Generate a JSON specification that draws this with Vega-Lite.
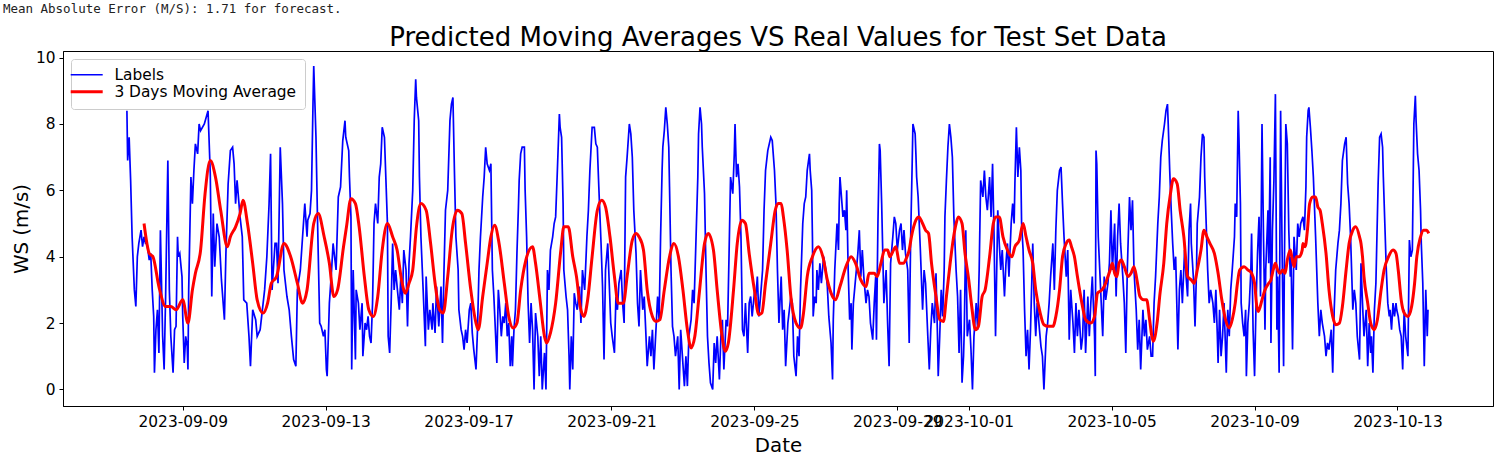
{
"$schema": "https://vega.github.io/schema/vega-lite/v6.json",
"background": "white",
"padding": {"left": 2, "top": 2, "right": 5, "bottom": 5},
"title": {"text": "Mean Absolute Error (M/S): 1.71 for forecast.", "anchor": "start", "frame": "bounds", "font": "DejaVu Sans Mono", "fontSize": 12.5, "fontWeight": "normal", "color": "#222222", "offset": 9, "dx": -8},
"datasets": {
"labels": [
{"t":"2023-09-07T10:30","v":8.4},{"t":"2023-09-07T11:00","v":6.9},{"t":"2023-09-07T12:00","v":7.6},{"t":"2023-09-07T13:00","v":6.3},{"t":"2023-09-07T14:00","v":4.6},{"t":"2023-09-07T15:30","v":3.0},{"t":"2023-09-07T16:30","v":2.5},{"t":"2023-09-07T17:30","v":4.0},{"t":"2023-09-07T18:30","v":4.4},{"t":"2023-09-07T20:00","v":4.8},{"t":"2023-09-07T21:00","v":4.3},{"t":"2023-09-07T22:00","v":4.6},{"t":"2023-09-07T23:00","v":4.4},
{"t":"2023-09-08T00:00","v":4.4},{"t":"2023-09-08T01:30","v":3.9},{"t":"2023-09-08T02:30","v":4.1},{"t":"2023-09-08T03:30","v":3.0},{"t":"2023-09-08T04:30","v":2.2},{"t":"2023-09-08T05:00","v":0.5},{"t":"2023-09-08T06:00","v":1.8},{"t":"2023-09-08T07:00","v":2.4},{"t":"2023-09-08T08:00","v":1.1},{"t":"2023-09-08T09:00","v":4.8},{"t":"2023-09-08T10:30","v":1.6},{"t":"2023-09-08T11:30","v":0.6},{"t":"2023-09-08T12:30","v":2.8},{"t":"2023-09-08T14:00","v":6.9},{"t":"2023-09-08T15:00","v":3.0},{"t":"2023-09-08T16:00","v":1.6},{"t":"2023-09-08T17:30","v":0.5},{"t":"2023-09-08T18:30","v":1.8},{"t":"2023-09-08T19:30","v":1.9},{"t":"2023-09-08T20:30","v":4.6},{"t":"2023-09-08T21:00","v":4.0},{"t":"2023-09-08T22:00","v":4.1},{"t":"2023-09-08T23:30","v":3.4},
{"t":"2023-09-09T00:00","v":2.2},{"t":"2023-09-09T01:00","v":0.8},{"t":"2023-09-09T02:00","v":1.6},{"t":"2023-09-09T03:00","v":1.3},{"t":"2023-09-09T03:30","v":0.6},{"t":"2023-09-09T04:00","v":3.0},{"t":"2023-09-09T05:30","v":6.4},{"t":"2023-09-09T06:30","v":5.6},{"t":"2023-09-09T07:30","v":6.6},{"t":"2023-09-09T08:30","v":7.4},{"t":"2023-09-09T10:00","v":7.1},{"t":"2023-09-09T11:00","v":8.0},{"t":"2023-09-09T12:00","v":7.8},{"t":"2023-09-09T14:30","v":8.0},{"t":"2023-09-09T17:00","v":8.4},{"t":"2023-09-09T18:30","v":6.5},{"t":"2023-09-09T19:30","v":2.8},{"t":"2023-09-09T20:30","v":5.3},{"t":"2023-09-09T21:30","v":3.7},{"t":"2023-09-09T23:00","v":5.0},
{"t":"2023-09-10T00:30","v":4.6},{"t":"2023-09-10T02:00","v":3.3},{"t":"2023-09-10T04:00","v":2.1},{"t":"2023-09-10T05:00","v":4.1},{"t":"2023-09-10T06:30","v":6.2},{"t":"2023-09-10T08:00","v":7.2},{"t":"2023-09-10T09:30","v":7.3},{"t":"2023-09-10T10:30","v":6.8},{"t":"2023-09-10T11:30","v":5.6},{"t":"2023-09-10T12:30","v":6.3},{"t":"2023-09-10T14:30","v":5.2},{"t":"2023-09-10T16:00","v":4.6},{"t":"2023-09-10T17:00","v":2.7},{"t":"2023-09-10T19:00","v":2.6},{"t":"2023-09-10T20:30","v":1.6},{"t":"2023-09-10T21:30","v":0.7},{"t":"2023-09-10T23:00","v":2.4},
{"t":"2023-09-11T01:00","v":2.1},{"t":"2023-09-11T02:00","v":1.6},{"t":"2023-09-11T04:00","v":1.8},{"t":"2023-09-11T05:30","v":2.4},{"t":"2023-09-11T07:00","v":3.0},{"t":"2023-09-11T08:30","v":4.0},{"t":"2023-09-11T10:00","v":5.6},{"t":"2023-09-11T11:00","v":7.1},{"t":"2023-09-11T12:00","v":3.0},{"t":"2023-09-11T14:00","v":4.4},{"t":"2023-09-11T15:00","v":4.4},{"t":"2023-09-11T16:00","v":3.2},{"t":"2023-09-11T17:30","v":7.3},{"t":"2023-09-11T19:00","v":5.6},{"t":"2023-09-11T20:00","v":3.6},{"t":"2023-09-11T22:00","v":2.8},{"t":"2023-09-11T23:30","v":2.4},
{"t":"2023-09-12T01:00","v":1.6},{"t":"2023-09-12T02:30","v":0.9},{"t":"2023-09-12T04:00","v":0.7},{"t":"2023-09-12T05:00","v":3.0},{"t":"2023-09-12T07:00","v":3.6},{"t":"2023-09-12T08:30","v":4.6},{"t":"2023-09-12T10:00","v":5.6},{"t":"2023-09-12T11:30","v":4.6},{"t":"2023-09-12T12:00","v":5.1},{"t":"2023-09-12T13:30","v":5.3},{"t":"2023-09-12T14:30","v":6.0},{"t":"2023-09-12T15:30","v":8.6},{"t":"2023-09-12T16:00","v":9.75},{"t":"2023-09-12T17:30","v":7.6},{"t":"2023-09-12T18:30","v":5.2},{"t":"2023-09-12T20:00","v":2.0},{"t":"2023-09-12T21:00","v":1.9},{"t":"2023-09-12T22:30","v":1.6},{"t":"2023-09-12T23:30","v":1.8},
{"t":"2023-09-13T00:30","v":0.6},{"t":"2023-09-13T01:00","v":0.4},{"t":"2023-09-13T02:30","v":2.6},{"t":"2023-09-13T04:00","v":3.6},{"t":"2023-09-13T05:00","v":4.4},{"t":"2023-09-13T07:00","v":3.6},{"t":"2023-09-13T08:30","v":5.8},{"t":"2023-09-13T10:00","v":6.1},{"t":"2023-09-13T11:30","v":7.5},{"t":"2023-09-13T13:00","v":8.1},{"t":"2023-09-13T13:30","v":7.6},{"t":"2023-09-13T15:30","v":7.2},{"t":"2023-09-13T16:00","v":6.4},{"t":"2023-09-13T17:00","v":5.2},{"t":"2023-09-13T17:30","v":0.6},{"t":"2023-09-13T18:30","v":3.6},{"t":"2023-09-13T20:00","v":0.9},{"t":"2023-09-13T20:30","v":3.0},{"t":"2023-09-13T22:00","v":2.6},{"t":"2023-09-13T23:00","v":1.8},
{"t":"2023-09-14T00:30","v":2.6},{"t":"2023-09-14T01:00","v":1.0},{"t":"2023-09-14T02:30","v":2.0},{"t":"2023-09-14T03:30","v":1.8},{"t":"2023-09-14T04:30","v":2.2},{"t":"2023-09-14T05:30","v":1.6},{"t":"2023-09-14T06:30","v":1.4},{"t":"2023-09-14T07:30","v":2.6},{"t":"2023-09-14T08:30","v":5.0},{"t":"2023-09-14T09:30","v":5.6},{"t":"2023-09-14T11:00","v":5.0},{"t":"2023-09-14T12:00","v":6.4},{"t":"2023-09-14T13:00","v":6.8},{"t":"2023-09-14T14:00","v":7.9},{"t":"2023-09-14T15:30","v":7.6},{"t":"2023-09-14T16:30","v":6.3},{"t":"2023-09-14T17:30","v":5.0},{"t":"2023-09-14T18:00","v":1.6},{"t":"2023-09-14T19:00","v":1.1},{"t":"2023-09-14T20:00","v":2.6},{"t":"2023-09-14T21:00","v":4.4},{"t":"2023-09-14T22:00","v":3.0},{"t":"2023-09-14T23:00","v":3.6},
{"t":"2023-09-15T00:00","v":3.1},{"t":"2023-09-15T01:30","v":2.4},{"t":"2023-09-15T02:30","v":3.4},{"t":"2023-09-15T03:30","v":2.6},{"t":"2023-09-15T04:30","v":4.2},{"t":"2023-09-15T06:00","v":3.6},{"t":"2023-09-15T07:00","v":1.9},{"t":"2023-09-15T08:00","v":3.8},{"t":"2023-09-15T09:00","v":4.6},{"t":"2023-09-15T10:30","v":6.0},{"t":"2023-09-15T11:30","v":8.1},{"t":"2023-09-15T12:30","v":9.35},{"t":"2023-09-15T13:00","v":8.8},{"t":"2023-09-15T14:30","v":8.1},{"t":"2023-09-15T15:00","v":6.4},{"t":"2023-09-15T16:00","v":4.6},{"t":"2023-09-15T17:30","v":3.0},{"t":"2023-09-15T19:00","v":1.3},{"t":"2023-09-15T19:30","v":3.4},{"t":"2023-09-15T21:00","v":1.8},{"t":"2023-09-15T22:00","v":2.4},{"t":"2023-09-15T23:30","v":1.8},
{"t":"2023-09-16T00:00","v":2.6},{"t":"2023-09-16T01:30","v":1.7},{"t":"2023-09-16T02:30","v":3.1},{"t":"2023-09-16T04:00","v":1.9},{"t":"2023-09-16T05:30","v":3.1},{"t":"2023-09-16T06:30","v":1.4},{"t":"2023-09-16T07:30","v":3.6},{"t":"2023-09-16T08:30","v":5.4},{"t":"2023-09-16T10:00","v":6.0},{"t":"2023-09-16T11:30","v":8.1},{"t":"2023-09-16T12:30","v":8.6},{"t":"2023-09-16T13:30","v":8.8},{"t":"2023-09-16T14:30","v":6.6},{"t":"2023-09-16T15:30","v":4.6},{"t":"2023-09-16T17:00","v":3.6},{"t":"2023-09-16T17:30","v":2.4},{"t":"2023-09-16T19:00","v":1.8},{"t":"2023-09-16T20:00","v":1.6},{"t":"2023-09-16T21:00","v":1.2},{"t":"2023-09-16T22:00","v":1.8},{"t":"2023-09-16T23:00","v":1.4},
{"t":"2023-09-17T00:30","v":2.4},{"t":"2023-09-17T01:30","v":2.6},{"t":"2023-09-17T02:30","v":1.7},{"t":"2023-09-17T03:30","v":1.2},{"t":"2023-09-17T05:00","v":0.6},{"t":"2023-09-17T06:00","v":1.8},{"t":"2023-09-17T07:00","v":3.6},{"t":"2023-09-17T08:00","v":4.6},{"t":"2023-09-17T09:30","v":5.8},{"t":"2023-09-17T10:30","v":6.4},{"t":"2023-09-17T11:30","v":7.3},{"t":"2023-09-17T12:30","v":6.8},{"t":"2023-09-17T14:00","v":6.6},{"t":"2023-09-17T15:00","v":6.8},{"t":"2023-09-17T16:00","v":3.6},{"t":"2023-09-17T17:00","v":2.8},{"t":"2023-09-17T18:30","v":1.3},{"t":"2023-09-17T19:00","v":0.8},{"t":"2023-09-17T20:00","v":3.0},{"t":"2023-09-17T21:00","v":2.4},{"t":"2023-09-17T22:00","v":1.6},{"t":"2023-09-17T23:00","v":2.2},
{"t":"2023-09-18T00:00","v":2.0},{"t":"2023-09-18T01:00","v":2.6},{"t":"2023-09-18T02:00","v":1.6},{"t":"2023-09-18T03:00","v":2.0},{"t":"2023-09-18T04:00","v":0.7},{"t":"2023-09-18T05:00","v":1.6},{"t":"2023-09-18T05:30","v":0.7},{"t":"2023-09-18T06:30","v":1.8},{"t":"2023-09-18T07:30","v":2.4},{"t":"2023-09-18T08:30","v":4.1},{"t":"2023-09-18T09:30","v":5.5},{"t":"2023-09-18T10:00","v":6.3},{"t":"2023-09-18T11:00","v":7.1},{"t":"2023-09-18T12:00","v":7.3},{"t":"2023-09-18T13:30","v":7.3},{"t":"2023-09-18T14:00","v":6.0},{"t":"2023-09-18T15:00","v":4.6},{"t":"2023-09-18T16:00","v":2.6},{"t":"2023-09-18T17:00","v":1.4},{"t":"2023-09-18T18:00","v":2.6},{"t":"2023-09-18T19:00","v":1.8},{"t":"2023-09-18T20:00","v":0.0},{"t":"2023-09-18T21:00","v":2.3},{"t":"2023-09-18T22:30","v":1.6},{"t":"2023-09-18T23:30","v":0.4},
{"t":"2023-09-19T00:30","v":1.6},{"t":"2023-09-19T01:30","v":0.0},{"t":"2023-09-19T03:00","v":1.1},{"t":"2023-09-19T04:00","v":0.0},{"t":"2023-09-19T05:00","v":3.6},{"t":"2023-09-19T06:00","v":3.0},{"t":"2023-09-19T07:00","v":4.2},{"t":"2023-09-19T08:30","v":4.6},{"t":"2023-09-19T09:30","v":5.0},{"t":"2023-09-19T10:30","v":5.2},{"t":"2023-09-19T11:30","v":6.4},{"t":"2023-09-19T13:00","v":8.3},{"t":"2023-09-19T13:30","v":7.9},{"t":"2023-09-19T14:30","v":7.6},{"t":"2023-09-19T15:30","v":5.6},{"t":"2023-09-19T16:00","v":3.6},{"t":"2023-09-19T17:30","v":2.8},{"t":"2023-09-19T18:30","v":2.4},{"t":"2023-09-19T19:30","v":1.0},{"t":"2023-09-19T20:00","v":0.0},{"t":"2023-09-19T21:00","v":1.6},{"t":"2023-09-19T22:00","v":0.6},{"t":"2023-09-19T23:00","v":2.9},
{"t":"2023-09-20T00:00","v":2.6},{"t":"2023-09-20T01:00","v":2.4},{"t":"2023-09-20T02:30","v":3.1},{"t":"2023-09-20T03:30","v":2.0},{"t":"2023-09-20T04:30","v":3.6},{"t":"2023-09-20T06:00","v":3.0},{"t":"2023-09-20T07:30","v":4.6},{"t":"2023-09-20T08:30","v":5.4},{"t":"2023-09-20T09:30","v":6.6},{"t":"2023-09-20T11:00","v":7.9},{"t":"2023-09-20T12:30","v":7.9},{"t":"2023-09-20T13:30","v":7.4},{"t":"2023-09-20T14:30","v":7.3},{"t":"2023-09-20T15:30","v":6.1},{"t":"2023-09-20T17:00","v":4.4},{"t":"2023-09-20T18:00","v":3.1},{"t":"2023-09-20T19:00","v":0.9},{"t":"2023-09-20T20:00","v":3.6},{"t":"2023-09-20T21:30","v":4.4},{"t":"2023-09-20T22:30","v":3.2},{"t":"2023-09-20T23:30","v":2.0},
{"t":"2023-09-21T00:30","v":1.6},{"t":"2023-09-21T02:00","v":1.1},{"t":"2023-09-21T03:00","v":2.8},{"t":"2023-09-21T04:00","v":2.4},{"t":"2023-09-21T05:00","v":3.2},{"t":"2023-09-21T06:30","v":3.6},{"t":"2023-09-21T07:30","v":2.6},{"t":"2023-09-21T08:30","v":2.0},{"t":"2023-09-21T09:30","v":6.4},{"t":"2023-09-21T10:30","v":7.0},{"t":"2023-09-21T12:00","v":8.0},{"t":"2023-09-21T13:00","v":7.7},{"t":"2023-09-21T14:00","v":7.0},{"t":"2023-09-21T15:00","v":5.4},{"t":"2023-09-21T16:30","v":4.1},{"t":"2023-09-21T17:30","v":2.6},{"t":"2023-09-21T18:30","v":1.9},{"t":"2023-09-21T19:30","v":3.6},{"t":"2023-09-21T21:00","v":2.4},{"t":"2023-09-21T22:00","v":2.8},{"t":"2023-09-21T23:00","v":1.8},
{"t":"2023-09-22T00:00","v":0.7},{"t":"2023-09-22T01:30","v":1.6},{"t":"2023-09-22T02:30","v":1.0},{"t":"2023-09-22T03:30","v":1.8},{"t":"2023-09-22T04:30","v":0.6},{"t":"2023-09-22T06:00","v":1.9},{"t":"2023-09-22T07:00","v":2.8},{"t":"2023-09-22T08:00","v":2.1},{"t":"2023-09-22T09:00","v":4.6},{"t":"2023-09-22T10:00","v":6.6},{"t":"2023-09-22T10:30","v":7.3},{"t":"2023-09-22T11:30","v":7.8},{"t":"2023-09-22T12:30","v":8.5},{"t":"2023-09-22T13:30","v":8.0},{"t":"2023-09-22T14:30","v":7.3},{"t":"2023-09-22T15:00","v":6.1},{"t":"2023-09-22T16:00","v":3.6},{"t":"2023-09-22T17:00","v":1.9},{"t":"2023-09-22T18:00","v":1.6},{"t":"2023-09-22T19:00","v":1.0},{"t":"2023-09-22T20:30","v":1.6},{"t":"2023-09-22T21:30","v":0.0},{"t":"2023-09-22T22:30","v":1.8},{"t":"2023-09-22T23:30","v":1.1},
{"t":"2023-09-23T01:00","v":0.1},{"t":"2023-09-23T02:00","v":1.0},{"t":"2023-09-23T03:00","v":0.1},{"t":"2023-09-23T04:00","v":1.6},{"t":"2023-09-23T05:30","v":2.1},{"t":"2023-09-23T06:30","v":3.0},{"t":"2023-09-23T07:30","v":2.6},{"t":"2023-09-23T08:30","v":4.1},{"t":"2023-09-23T10:00","v":6.4},{"t":"2023-09-23T10:30","v":7.7},{"t":"2023-09-23T11:30","v":8.5},{"t":"2023-09-23T12:30","v":8.0},{"t":"2023-09-23T13:00","v":7.3},{"t":"2023-09-23T14:30","v":5.9},{"t":"2023-09-23T15:30","v":3.6},{"t":"2023-09-23T16:30","v":1.6},{"t":"2023-09-23T17:30","v":0.8},{"t":"2023-09-23T18:30","v":0.2},{"t":"2023-09-23T20:00","v":0.0},{"t":"2023-09-23T21:00","v":1.4},{"t":"2023-09-23T22:00","v":0.8},{"t":"2023-09-23T23:00","v":1.6},
{"t":"2023-09-24T00:30","v":0.3},{"t":"2023-09-24T01:30","v":1.6},{"t":"2023-09-24T02:30","v":2.1},{"t":"2023-09-24T03:30","v":0.6},{"t":"2023-09-24T05:00","v":2.1},{"t":"2023-09-24T06:00","v":1.9},{"t":"2023-09-24T07:00","v":4.1},{"t":"2023-09-24T08:00","v":6.4},{"t":"2023-09-24T09:30","v":5.9},{"t":"2023-09-24T10:30","v":7.1},{"t":"2023-09-24T11:00","v":8.0},{"t":"2023-09-24T12:00","v":6.4},{"t":"2023-09-24T13:00","v":6.8},{"t":"2023-09-24T14:00","v":6.1},{"t":"2023-09-24T15:00","v":4.6},{"t":"2023-09-24T16:00","v":1.8},{"t":"2023-09-24T17:00","v":1.6},{"t":"2023-09-24T18:00","v":2.6},{"t":"2023-09-24T19:30","v":1.1},{"t":"2023-09-24T20:30","v":2.6},{"t":"2023-09-24T21:30","v":2.8},{"t":"2023-09-24T22:30","v":2.2},
{"t":"2023-09-25T00:00","v":2.9},{"t":"2023-09-25T01:00","v":2.8},{"t":"2023-09-25T02:00","v":3.4},{"t":"2023-09-25T03:00","v":2.2},{"t":"2023-09-25T04:30","v":3.0},{"t":"2023-09-25T05:30","v":3.6},{"t":"2023-09-25T06:30","v":5.4},{"t":"2023-09-25T07:30","v":6.6},{"t":"2023-09-25T09:00","v":7.2},{"t":"2023-09-25T10:00","v":7.4},{"t":"2023-09-25T11:00","v":7.6},{"t":"2023-09-25T12:00","v":7.5},{"t":"2023-09-25T13:30","v":6.6},{"t":"2023-09-25T14:30","v":5.6},{"t":"2023-09-25T15:30","v":3.6},{"t":"2023-09-25T16:30","v":2.0},{"t":"2023-09-25T18:00","v":3.4},{"t":"2023-09-25T19:00","v":1.8},{"t":"2023-09-25T20:00","v":2.4},{"t":"2023-09-25T21:00","v":0.7},{"t":"2023-09-25T22:30","v":2.0},{"t":"2023-09-25T23:30","v":2.4},
{"t":"2023-09-26T00:30","v":2.8},{"t":"2023-09-26T01:30","v":2.6},{"t":"2023-09-26T02:30","v":1.0},{"t":"2023-09-26T04:00","v":0.4},{"t":"2023-09-26T05:00","v":1.6},{"t":"2023-09-26T06:00","v":1.0},{"t":"2023-09-26T07:00","v":3.0},{"t":"2023-09-26T08:30","v":5.0},{"t":"2023-09-26T09:30","v":5.6},{"t":"2023-09-26T10:30","v":5.8},{"t":"2023-09-26T11:30","v":6.6},{"t":"2023-09-26T13:00","v":7.1},{"t":"2023-09-26T13:30","v":6.6},{"t":"2023-09-26T14:30","v":6.0},{"t":"2023-09-26T15:00","v":4.6},{"t":"2023-09-26T15:30","v":2.2},{"t":"2023-09-26T16:30","v":2.8},{"t":"2023-09-26T17:30","v":2.6},{"t":"2023-09-26T18:00","v":3.6},{"t":"2023-09-26T19:00","v":3.0},{"t":"2023-09-26T20:00","v":3.8},{"t":"2023-09-26T21:00","v":3.2},{"t":"2023-09-26T22:30","v":4.0},
{"t":"2023-09-27T00:00","v":3.6},{"t":"2023-09-27T01:00","v":3.1},{"t":"2023-09-27T02:00","v":2.2},{"t":"2023-09-27T03:30","v":1.4},{"t":"2023-09-27T04:30","v":0.3},{"t":"2023-09-27T05:00","v":2.1},{"t":"2023-09-27T06:00","v":3.6},{"t":"2023-09-27T07:30","v":5.0},{"t":"2023-09-27T08:30","v":4.2},{"t":"2023-09-27T09:00","v":5.6},{"t":"2023-09-27T09:30","v":6.4},{"t":"2023-09-27T10:30","v":5.8},{"t":"2023-09-27T11:30","v":5.2},{"t":"2023-09-27T12:30","v":5.4},{"t":"2023-09-27T13:30","v":4.8},{"t":"2023-09-27T14:00","v":6.0},{"t":"2023-09-27T15:00","v":3.6},{"t":"2023-09-27T16:00","v":2.1},{"t":"2023-09-27T17:00","v":2.6},{"t":"2023-09-27T17:30","v":1.2},{"t":"2023-09-27T18:30","v":2.6},{"t":"2023-09-27T19:30","v":3.1},{"t":"2023-09-27T20:30","v":3.6},{"t":"2023-09-27T21:30","v":4.1},{"t":"2023-09-27T22:30","v":4.8},{"t":"2023-09-27T23:30","v":3.4},
{"t":"2023-09-28T00:30","v":4.2},{"t":"2023-09-28T01:30","v":3.4},{"t":"2023-09-28T03:00","v":2.6},{"t":"2023-09-28T04:00","v":3.0},{"t":"2023-09-28T05:00","v":2.8},{"t":"2023-09-28T06:00","v":2.0},{"t":"2023-09-28T07:30","v":1.5},{"t":"2023-09-28T08:30","v":2.6},{"t":"2023-09-28T09:30","v":3.4},{"t":"2023-09-28T10:00","v":1.5},{"t":"2023-09-28T11:00","v":5.0},{"t":"2023-09-28T12:00","v":7.4},{"t":"2023-09-28T12:30","v":7.2},{"t":"2023-09-28T13:30","v":5.6},{"t":"2023-09-28T14:30","v":3.6},{"t":"2023-09-28T15:00","v":2.6},{"t":"2023-09-28T16:30","v":3.6},{"t":"2023-09-28T17:30","v":2.0},{"t":"2023-09-28T18:30","v":0.7},{"t":"2023-09-28T19:30","v":3.8},{"t":"2023-09-28T21:00","v":4.6},{"t":"2023-09-28T22:00","v":5.2},{"t":"2023-09-28T23:00","v":5.0},
{"t":"2023-09-29T00:00","v":4.2},{"t":"2023-09-29T01:30","v":4.8},{"t":"2023-09-29T02:30","v":5.0},{"t":"2023-09-29T03:30","v":4.2},{"t":"2023-09-29T04:30","v":4.8},{"t":"2023-09-29T05:30","v":4.1},{"t":"2023-09-29T07:00","v":3.6},{"t":"2023-09-29T08:00","v":1.4},{"t":"2023-09-29T09:00","v":4.6},{"t":"2023-09-29T10:00","v":6.8},{"t":"2023-09-29T10:30","v":8.0},{"t":"2023-09-29T12:00","v":7.7},{"t":"2023-09-29T12:30","v":7.1},{"t":"2023-09-29T13:00","v":6.4},{"t":"2023-09-29T14:00","v":5.8},{"t":"2023-09-29T15:30","v":4.2},{"t":"2023-09-29T16:30","v":3.0},{"t":"2023-09-29T17:00","v":2.4},{"t":"2023-09-29T18:00","v":3.6},{"t":"2023-09-29T19:00","v":3.2},{"t":"2023-09-29T20:30","v":1.6},{"t":"2023-09-29T21:30","v":0.6},{"t":"2023-09-29T22:30","v":1.8},{"t":"2023-09-29T23:30","v":2.6},
{"t":"2023-09-30T01:00","v":2.0},{"t":"2023-09-30T02:00","v":3.5},{"t":"2023-09-30T03:00","v":1.6},{"t":"2023-09-30T03:30","v":0.4},{"t":"2023-09-30T04:30","v":1.6},{"t":"2023-09-30T05:30","v":3.0},{"t":"2023-09-30T06:30","v":2.2},{"t":"2023-09-30T07:30","v":3.6},{"t":"2023-09-30T08:00","v":5.2},{"t":"2023-09-30T09:00","v":6.3},{"t":"2023-09-30T10:00","v":7.3},{"t":"2023-09-30T11:00","v":8.0},{"t":"2023-09-30T12:00","v":7.6},{"t":"2023-09-30T13:00","v":7.0},{"t":"2023-09-30T14:00","v":5.2},{"t":"2023-09-30T15:30","v":3.6},{"t":"2023-09-30T16:30","v":2.8},{"t":"2023-09-30T17:30","v":1.1},{"t":"2023-09-30T18:30","v":3.0},{"t":"2023-09-30T19:30","v":0.2},{"t":"2023-09-30T20:30","v":1.0},{"t":"2023-09-30T21:00","v":1.8},{"t":"2023-09-30T22:00","v":4.8},{"t":"2023-09-30T23:00","v":1.6},
{"t":"2023-10-01T00:30","v":2.1},{"t":"2023-10-01T01:30","v":1.2},{"t":"2023-10-01T02:30","v":0.0},{"t":"2023-10-01T03:30","v":1.6},{"t":"2023-10-01T05:00","v":2.6},{"t":"2023-10-01T06:00","v":1.8},{"t":"2023-10-01T07:00","v":3.6},{"t":"2023-10-01T08:00","v":6.3},{"t":"2023-10-01T09:30","v":5.8},{"t":"2023-10-01T10:30","v":6.6},{"t":"2023-10-01T11:30","v":5.8},{"t":"2023-10-01T12:30","v":5.4},{"t":"2023-10-01T14:00","v":6.4},{"t":"2023-10-01T15:00","v":5.2},{"t":"2023-10-01T16:00","v":6.8},{"t":"2023-10-01T17:00","v":4.6},{"t":"2023-10-01T18:00","v":1.6},{"t":"2023-10-01T19:30","v":5.4},{"t":"2023-10-01T20:30","v":4.4},{"t":"2023-10-01T21:30","v":3.6},{"t":"2023-10-01T22:30","v":4.2},
{"t":"2023-10-02T00:00","v":2.8},{"t":"2023-10-02T01:00","v":3.8},{"t":"2023-10-02T02:00","v":4.4},{"t":"2023-10-02T03:00","v":3.4},{"t":"2023-10-02T04:30","v":5.0},{"t":"2023-10-02T05:30","v":5.6},{"t":"2023-10-02T06:30","v":5.0},{"t":"2023-10-02T07:00","v":6.2},{"t":"2023-10-02T08:00","v":7.9},{"t":"2023-10-02T09:00","v":6.4},{"t":"2023-10-02T10:00","v":7.3},{"t":"2023-10-02T11:00","v":6.6},{"t":"2023-10-02T11:30","v":5.0},{"t":"2023-10-02T12:30","v":4.2},{"t":"2023-10-02T13:30","v":2.4},{"t":"2023-10-02T14:30","v":1.0},{"t":"2023-10-02T15:30","v":1.8},{"t":"2023-10-02T16:30","v":0.6},{"t":"2023-10-02T17:30","v":1.8},{"t":"2023-10-02T19:00","v":4.4},{"t":"2023-10-02T20:00","v":2.6},{"t":"2023-10-02T21:00","v":1.6},{"t":"2023-10-02T22:00","v":2.6},{"t":"2023-10-02T23:30","v":1.8},
{"t":"2023-10-03T00:30","v":1.3},{"t":"2023-10-03T01:30","v":1.0},{"t":"2023-10-03T02:30","v":0.0},{"t":"2023-10-03T04:00","v":1.6},{"t":"2023-10-03T05:00","v":2.0},{"t":"2023-10-03T06:00","v":2.6},{"t":"2023-10-03T07:00","v":3.4},{"t":"2023-10-03T08:30","v":4.4},{"t":"2023-10-03T09:30","v":3.0},{"t":"2023-10-03T10:30","v":4.8},{"t":"2023-10-03T11:30","v":6.0},{"t":"2023-10-03T13:00","v":6.6},{"t":"2023-10-03T14:00","v":6.7},{"t":"2023-10-03T15:00","v":5.6},{"t":"2023-10-03T16:00","v":4.6},{"t":"2023-10-03T17:30","v":3.4},{"t":"2023-10-03T18:30","v":4.2},{"t":"2023-10-03T19:30","v":1.5},{"t":"2023-10-03T20:30","v":3.0},{"t":"2023-10-03T22:00","v":2.0},{"t":"2023-10-03T23:00","v":1.1},
{"t":"2023-10-04T00:00","v":2.6},{"t":"2023-10-04T01:00","v":1.6},{"t":"2023-10-04T02:00","v":2.4},{"t":"2023-10-04T03:30","v":1.2},{"t":"2023-10-04T04:30","v":1.6},{"t":"2023-10-04T05:30","v":3.0},{"t":"2023-10-04T06:30","v":1.1},{"t":"2023-10-04T08:00","v":2.8},{"t":"2023-10-04T09:00","v":1.6},{"t":"2023-10-04T10:00","v":2.6},{"t":"2023-10-04T11:00","v":3.4},{"t":"2023-10-04T12:30","v":1.6},{"t":"2023-10-04T13:00","v":0.4},{"t":"2023-10-04T13:30","v":7.2},{"t":"2023-10-04T14:00","v":6.8},{"t":"2023-10-04T15:00","v":4.6},{"t":"2023-10-04T16:00","v":3.6},{"t":"2023-10-04T17:00","v":2.6},{"t":"2023-10-04T18:00","v":1.6},{"t":"2023-10-04T19:00","v":3.4},{"t":"2023-10-04T20:00","v":2.7},{"t":"2023-10-04T21:30","v":3.2},{"t":"2023-10-04T22:30","v":3.8},{"t":"2023-10-04T23:30","v":5.4},
{"t":"2023-10-05T00:30","v":3.6},{"t":"2023-10-05T02:00","v":5.0},{"t":"2023-10-05T03:00","v":2.8},{"t":"2023-10-05T04:00","v":4.6},{"t":"2023-10-05T05:00","v":5.6},{"t":"2023-10-05T06:00","v":4.4},{"t":"2023-10-05T07:30","v":3.4},{"t":"2023-10-05T08:30","v":2.6},{"t":"2023-10-05T09:30","v":1.1},{"t":"2023-10-05T10:30","v":3.6},{"t":"2023-10-05T12:00","v":5.8},{"t":"2023-10-05T13:00","v":4.8},{"t":"2023-10-05T14:00","v":5.7},{"t":"2023-10-05T15:00","v":3.6},{"t":"2023-10-05T16:30","v":2.4},{"t":"2023-10-05T17:30","v":1.2},{"t":"2023-10-05T18:30","v":2.1},{"t":"2023-10-05T19:30","v":0.6},{"t":"2023-10-05T21:00","v":2.4},{"t":"2023-10-05T22:00","v":1.6},{"t":"2023-10-05T23:00","v":2.1},
{"t":"2023-10-06T00:00","v":1.2},{"t":"2023-10-06T01:30","v":1.6},{"t":"2023-10-06T02:30","v":1.0},{"t":"2023-10-06T03:30","v":1.0},{"t":"2023-10-06T04:30","v":2.6},{"t":"2023-10-06T05:30","v":3.4},{"t":"2023-10-06T07:00","v":5.0},{"t":"2023-10-06T08:00","v":5.8},{"t":"2023-10-06T09:00","v":7.0},{"t":"2023-10-06T10:00","v":7.5},{"t":"2023-10-06T11:30","v":8.0},{"t":"2023-10-06T12:30","v":8.4},{"t":"2023-10-06T13:30","v":8.6},{"t":"2023-10-06T14:00","v":8.0},{"t":"2023-10-06T15:00","v":6.6},{"t":"2023-10-06T16:00","v":5.4},{"t":"2023-10-06T17:00","v":4.4},{"t":"2023-10-06T18:00","v":3.6},{"t":"2023-10-06T19:00","v":4.0},{"t":"2023-10-06T20:30","v":1.2},{"t":"2023-10-06T21:30","v":3.0},{"t":"2023-10-06T22:30","v":3.6},{"t":"2023-10-06T23:30","v":2.6},
{"t":"2023-10-07T01:00","v":4.2},{"t":"2023-10-07T02:00","v":3.4},{"t":"2023-10-07T03:00","v":2.8},{"t":"2023-10-07T04:00","v":4.8},{"t":"2023-10-07T05:00","v":5.6},{"t":"2023-10-07T05:30","v":4.4},{"t":"2023-10-07T07:00","v":3.3},{"t":"2023-10-07T08:00","v":1.9},{"t":"2023-10-07T09:00","v":3.6},{"t":"2023-10-07T09:30","v":5.0},{"t":"2023-10-07T11:00","v":5.8},{"t":"2023-10-07T12:00","v":7.0},{"t":"2023-10-07T13:00","v":7.7},{"t":"2023-10-07T14:00","v":7.6},{"t":"2023-10-07T14:30","v":6.4},{"t":"2023-10-07T15:30","v":5.0},{"t":"2023-10-07T16:30","v":3.6},{"t":"2023-10-07T17:30","v":2.6},{"t":"2023-10-07T18:30","v":3.0},{"t":"2023-10-07T20:00","v":2.6},{"t":"2023-10-07T21:00","v":2.0},{"t":"2023-10-07T22:00","v":3.0},{"t":"2023-10-07T23:00","v":1.6},{"t":"2023-10-07T23:30","v":0.8},
{"t":"2023-10-08T00:30","v":2.4},{"t":"2023-10-08T01:30","v":1.0},{"t":"2023-10-08T02:30","v":1.6},{"t":"2023-10-08T03:30","v":2.6},{"t":"2023-10-08T05:00","v":0.5},{"t":"2023-10-08T06:00","v":2.4},{"t":"2023-10-08T07:00","v":1.6},{"t":"2023-10-08T08:00","v":3.0},{"t":"2023-10-08T09:00","v":3.6},{"t":"2023-10-08T10:30","v":4.6},{"t":"2023-10-08T11:00","v":5.6},{"t":"2023-10-08T12:00","v":5.2},{"t":"2023-10-08T13:00","v":8.4},{"t":"2023-10-08T13:30","v":7.6},{"t":"2023-10-08T14:30","v":5.6},{"t":"2023-10-08T15:00","v":2.6},{"t":"2023-10-08T16:00","v":2.0},{"t":"2023-10-08T17:00","v":1.6},{"t":"2023-10-08T18:00","v":2.4},{"t":"2023-10-08T18:30","v":0.4},{"t":"2023-10-08T19:30","v":2.0},{"t":"2023-10-08T20:30","v":2.6},{"t":"2023-10-08T21:30","v":3.6},{"t":"2023-10-08T22:00","v":4.7},{"t":"2023-10-08T23:00","v":1.8},
{"t":"2023-10-09T00:00","v":0.4},{"t":"2023-10-09T01:00","v":2.6},{"t":"2023-10-09T02:00","v":4.1},{"t":"2023-10-09T03:00","v":5.2},{"t":"2023-10-09T04:00","v":2.8},{"t":"2023-10-09T05:00","v":8.0},{"t":"2023-10-09T06:00","v":4.6},{"t":"2023-10-09T07:00","v":1.8},{"t":"2023-10-09T07:30","v":3.6},{"t":"2023-10-09T09:00","v":5.4},{"t":"2023-10-09T09:30","v":3.8},{"t":"2023-10-09T10:30","v":7.0},{"t":"2023-10-09T11:00","v":1.4},{"t":"2023-10-09T12:00","v":4.8},{"t":"2023-10-09T13:00","v":6.3},{"t":"2023-10-09T14:00","v":8.9},{"t":"2023-10-09T15:00","v":1.8},{"t":"2023-10-09T15:30","v":3.4},{"t":"2023-10-09T16:30","v":0.5},{"t":"2023-10-09T17:30","v":8.4},{"t":"2023-10-09T18:30","v":4.2},{"t":"2023-10-09T19:30","v":0.7},{"t":"2023-10-09T20:00","v":3.6},{"t":"2023-10-09T21:00","v":8.0},{"t":"2023-10-09T22:00","v":7.4},{"t":"2023-10-09T23:00","v":4.8},
{"t":"2023-10-10T00:00","v":3.4},{"t":"2023-10-10T00:30","v":4.0},{"t":"2023-10-10T01:30","v":1.2},{"t":"2023-10-10T02:30","v":4.6},{"t":"2023-10-10T04:00","v":3.6},{"t":"2023-10-10T05:00","v":5.0},{"t":"2023-10-10T06:00","v":4.6},{"t":"2023-10-10T07:00","v":5.0},{"t":"2023-10-10T08:30","v":5.2},{"t":"2023-10-10T09:30","v":4.8},{"t":"2023-10-10T10:30","v":6.1},{"t":"2023-10-10T11:00","v":7.6},{"t":"2023-10-10T12:00","v":8.4},{"t":"2023-10-10T12:30","v":8.5},{"t":"2023-10-10T13:30","v":7.9},{"t":"2023-10-10T14:30","v":7.2},{"t":"2023-10-10T15:30","v":6.4},{"t":"2023-10-10T16:30","v":5.2},{"t":"2023-10-10T17:00","v":4.6},{"t":"2023-10-10T18:30","v":2.6},{"t":"2023-10-10T19:30","v":1.6},{"t":"2023-10-10T20:30","v":2.4},{"t":"2023-10-10T21:30","v":2.0},{"t":"2023-10-10T23:00","v":1.6},
{"t":"2023-10-11T00:00","v":1.0},{"t":"2023-10-11T01:00","v":1.4},{"t":"2023-10-11T02:00","v":1.2},{"t":"2023-10-11T03:30","v":1.8},{"t":"2023-10-11T04:30","v":0.5},{"t":"2023-10-11T05:30","v":2.4},{"t":"2023-10-11T06:30","v":3.6},{"t":"2023-10-11T08:00","v":4.4},{"t":"2023-10-11T09:00","v":4.8},{"t":"2023-10-11T10:00","v":5.6},{"t":"2023-10-11T11:00","v":6.9},{"t":"2023-10-11T12:30","v":7.4},{"t":"2023-10-11T13:30","v":7.6},{"t":"2023-10-11T14:30","v":6.2},{"t":"2023-10-11T15:30","v":5.6},{"t":"2023-10-11T16:30","v":4.6},{"t":"2023-10-11T18:00","v":2.4},{"t":"2023-10-11T19:00","v":3.0},{"t":"2023-10-11T20:00","v":2.6},{"t":"2023-10-11T21:00","v":1.6},{"t":"2023-10-11T22:30","v":0.9},{"t":"2023-10-11T23:30","v":3.8},
{"t":"2023-10-12T00:30","v":2.6},{"t":"2023-10-12T01:30","v":1.6},{"t":"2023-10-12T03:00","v":2.4},{"t":"2023-10-12T04:00","v":0.7},{"t":"2023-10-12T05:00","v":2.0},{"t":"2023-10-12T06:00","v":1.1},{"t":"2023-10-12T06:30","v":1.6},{"t":"2023-10-12T07:30","v":0.5},{"t":"2023-10-12T08:30","v":2.4},{"t":"2023-10-12T09:30","v":3.2},{"t":"2023-10-12T10:00","v":4.2},{"t":"2023-10-12T11:00","v":6.2},{"t":"2023-10-12T12:00","v":7.6},{"t":"2023-10-12T13:00","v":7.7},{"t":"2023-10-12T14:00","v":7.3},{"t":"2023-10-12T14:30","v":6.4},{"t":"2023-10-12T15:30","v":5.0},{"t":"2023-10-12T16:30","v":3.6},{"t":"2023-10-12T17:30","v":2.6},{"t":"2023-10-12T18:30","v":2.2},{"t":"2023-10-12T19:00","v":2.4},{"t":"2023-10-12T20:00","v":1.8},{"t":"2023-10-12T21:00","v":2.6},{"t":"2023-10-12T22:00","v":2.2},{"t":"2023-10-12T23:00","v":2.6},{"t":"2023-10-12T23:30","v":2.4},
{"t":"2023-10-13T00:30","v":2.2},{"t":"2023-10-13T01:30","v":1.8},{"t":"2023-10-13T02:30","v":1.6},{"t":"2023-10-13T03:30","v":0.6},{"t":"2023-10-13T04:30","v":2.4},{"t":"2023-10-13T05:30","v":1.6},{"t":"2023-10-13T07:00","v":1.0},{"t":"2023-10-13T08:00","v":4.5},{"t":"2023-10-13T09:00","v":4.0},{"t":"2023-10-13T10:00","v":4.2},{"t":"2023-10-13T11:00","v":8.0},{"t":"2023-10-13T12:00","v":8.85},{"t":"2023-10-13T12:30","v":8.1},{"t":"2023-10-13T13:30","v":7.1},{"t":"2023-10-13T14:30","v":6.6},{"t":"2023-10-13T15:30","v":5.4},{"t":"2023-10-13T16:00","v":4.4},{"t":"2023-10-13T17:00","v":3.2},{"t":"2023-10-13T18:00","v":0.7},{"t":"2023-10-13T19:00","v":3.0},{"t":"2023-10-13T20:00","v":1.6},{"t":"2023-10-13T20:30","v":2.4}
],
"ma": [
{"t":"2023-09-07T22:00","v":5.0},{"t":"2023-09-08T01:30","v":4.1},{"t":"2023-09-08T04:00","v":4.0},{"t":"2023-09-08T08:00","v":3.1},{"t":"2023-09-08T12:30","v":2.5},{"t":"2023-09-08T16:00","v":2.5},{"t":"2023-09-08T19:30","v":2.4},{"t":"2023-09-09T00:00","v":2.7},{"t":"2023-09-09T03:30","v":2.0},{"t":"2023-09-09T06:30","v":3.0},{"t":"2023-09-09T08:30","v":3.5},{"t":"2023-09-09T12:00","v":4.2},{"t":"2023-09-09T15:00","v":5.9},{"t":"2023-09-09T18:30","v":6.9},{"t":"2023-09-09T22:00","v":6.4},
{"t":"2023-09-10T01:30","v":5.4},{"t":"2023-09-10T06:00","v":4.3},{"t":"2023-09-10T08:00","v":4.6},{"t":"2023-09-10T11:30","v":4.9},{"t":"2023-09-10T14:30","v":5.3},{"t":"2023-09-10T16:30","v":5.7},{"t":"2023-09-10T19:30","v":5.0},{"t":"2023-09-10T23:00","v":3.8},
{"t":"2023-09-11T02:00","v":2.7},{"t":"2023-09-11T06:00","v":2.3},{"t":"2023-09-11T09:00","v":2.6},{"t":"2023-09-11T11:30","v":3.2},{"t":"2023-09-11T15:00","v":3.4},{"t":"2023-09-11T20:00","v":4.4},
{"t":"2023-09-12T00:30","v":4.0},{"t":"2023-09-12T05:00","v":3.2},{"t":"2023-09-12T08:30","v":2.6},{"t":"2023-09-12T11:30","v":3.0},{"t":"2023-09-12T16:00","v":5.0},{"t":"2023-09-12T19:00","v":5.3},{"t":"2023-09-12T23:00","v":4.6},
{"t":"2023-09-13T02:30","v":3.8},{"t":"2023-09-13T05:30","v":2.8},{"t":"2023-09-13T08:00","v":3.0},{"t":"2023-09-13T12:00","v":4.3},{"t":"2023-09-13T14:00","v":4.9},{"t":"2023-09-13T17:00","v":5.75},{"t":"2023-09-13T20:00","v":5.6},{"t":"2023-09-13T22:30","v":4.9},
{"t":"2023-09-14T02:00","v":3.4},{"t":"2023-09-14T05:00","v":2.4},{"t":"2023-09-14T08:00","v":2.2},{"t":"2023-09-14T11:00","v":2.8},{"t":"2023-09-14T14:00","v":4.2},{"t":"2023-09-14T17:30","v":5.0},{"t":"2023-09-14T21:00","v":4.6},
{"t":"2023-09-15T00:00","v":4.2},{"t":"2023-09-15T03:00","v":3.3},{"t":"2023-09-15T05:30","v":2.9},{"t":"2023-09-15T08:00","v":3.2},{"t":"2023-09-15T10:30","v":3.6},{"t":"2023-09-15T13:00","v":4.9},{"t":"2023-09-15T16:00","v":5.6},{"t":"2023-09-15T19:30","v":5.4},{"t":"2023-09-15T22:30","v":4.4},
{"t":"2023-09-16T01:30","v":3.2},{"t":"2023-09-16T04:30","v":2.4},{"t":"2023-09-16T07:00","v":2.3},{"t":"2023-09-16T10:00","v":3.4},{"t":"2023-09-16T13:00","v":4.8},{"t":"2023-09-16T16:30","v":5.4},{"t":"2023-09-16T19:30","v":5.3},{"t":"2023-09-16T22:00","v":4.4},
{"t":"2023-09-17T01:30","v":3.0},{"t":"2023-09-17T05:00","v":2.0},{"t":"2023-09-17T06:30","v":1.8},{"t":"2023-09-17T09:30","v":2.8},{"t":"2023-09-17T12:30","v":3.8},{"t":"2023-09-17T15:00","v":4.6},{"t":"2023-09-17T17:30","v":4.95},{"t":"2023-09-17T20:30","v":4.4},
{"t":"2023-09-18T00:00","v":3.2},{"t":"2023-09-18T03:00","v":2.2},{"t":"2023-09-18T06:00","v":1.85},{"t":"2023-09-18T08:30","v":2.0},{"t":"2023-09-18T11:00","v":3.0},{"t":"2023-09-18T14:30","v":3.9},{"t":"2023-09-18T19:00","v":4.3},{"t":"2023-09-18T21:00","v":3.8},
{"t":"2023-09-19T00:00","v":2.7},{"t":"2023-09-19T03:00","v":1.6},{"t":"2023-09-19T04:30","v":1.4},{"t":"2023-09-19T07:00","v":1.7},{"t":"2023-09-19T10:30","v":2.6},{"t":"2023-09-19T14:00","v":4.2},{"t":"2023-09-19T16:00","v":4.9},{"t":"2023-09-19T19:00","v":4.9},{"t":"2023-09-19T22:00","v":4.0},
{"t":"2023-09-20T00:30","v":3.4},{"t":"2023-09-20T03:00","v":2.5},{"t":"2023-09-20T05:30","v":2.2},{"t":"2023-09-20T08:00","v":2.7},{"t":"2023-09-20T11:00","v":4.0},{"t":"2023-09-20T14:30","v":5.4},{"t":"2023-09-20T17:30","v":5.7},{"t":"2023-09-20T20:00","v":5.5},{"t":"2023-09-20T23:00","v":4.6},
{"t":"2023-09-21T02:00","v":3.4},{"t":"2023-09-21T04:30","v":2.6},{"t":"2023-09-21T08:00","v":2.6},{"t":"2023-09-21T10:30","v":3.4},{"t":"2023-09-21T14:00","v":4.5},{"t":"2023-09-21T16:30","v":4.7},{"t":"2023-09-21T18:30","v":4.6},{"t":"2023-09-21T21:30","v":4.2},
{"t":"2023-09-22T00:00","v":3.0},{"t":"2023-09-22T03:30","v":2.2},{"t":"2023-09-22T06:00","v":2.05},{"t":"2023-09-22T08:30","v":2.1},{"t":"2023-09-22T11:30","v":3.0},{"t":"2023-09-22T15:00","v":4.0},{"t":"2023-09-22T18:00","v":4.4},{"t":"2023-09-22T21:00","v":4.0},
{"t":"2023-09-23T00:00","v":3.0},{"t":"2023-09-23T03:00","v":1.8},{"t":"2023-09-23T05:30","v":1.25},{"t":"2023-09-23T08:00","v":1.6},{"t":"2023-09-23T11:00","v":2.9},{"t":"2023-09-23T14:30","v":4.4},{"t":"2023-09-23T17:00","v":4.7},{"t":"2023-09-23T20:30","v":4.2},{"t":"2023-09-23T23:00","v":3.0},
{"t":"2023-09-24T02:00","v":1.7},{"t":"2023-09-24T04:30","v":1.15},{"t":"2023-09-24T06:30","v":1.4},{"t":"2023-09-24T10:00","v":3.0},{"t":"2023-09-24T12:30","v":4.4},{"t":"2023-09-24T15:30","v":5.1},{"t":"2023-09-24T18:00","v":5.0},{"t":"2023-09-24T20:30","v":4.1},
{"t":"2023-09-25T00:00","v":3.0},{"t":"2023-09-25T03:00","v":2.25},{"t":"2023-09-25T05:00","v":2.3},{"t":"2023-09-25T07:30","v":3.2},{"t":"2023-09-25T11:00","v":4.4},{"t":"2023-09-25T14:00","v":5.4},{"t":"2023-09-25T16:00","v":5.6},{"t":"2023-09-25T18:00","v":5.6},{"t":"2023-09-25T19:30","v":5.2},{"t":"2023-09-25T22:00","v":4.2},
{"t":"2023-09-26T00:30","v":2.8},{"t":"2023-09-26T04:00","v":2.0},{"t":"2023-09-26T07:00","v":1.85},{"t":"2023-09-26T09:00","v":2.3},{"t":"2023-09-26T11:30","v":3.4},{"t":"2023-09-26T15:00","v":4.0},{"t":"2023-09-26T19:00","v":4.3},{"t":"2023-09-26T22:00","v":4.0},
{"t":"2023-09-27T01:00","v":3.3},{"t":"2023-09-27T04:30","v":2.8},{"t":"2023-09-27T06:30","v":2.7},{"t":"2023-09-27T09:30","v":3.1},{"t":"2023-09-27T13:30","v":3.7},{"t":"2023-09-27T17:00","v":4.0},{"t":"2023-09-27T20:00","v":3.8},{"t":"2023-09-27T23:30","v":3.3},
{"t":"2023-09-28T03:00","v":3.1},{"t":"2023-09-28T05:00","v":3.5},{"t":"2023-09-28T08:30","v":3.5},{"t":"2023-09-28T10:30","v":3.4},{"t":"2023-09-28T13:00","v":3.8},{"t":"2023-09-28T15:30","v":4.2},{"t":"2023-09-28T17:30","v":4.2},{"t":"2023-09-28T19:00","v":4.0},{"t":"2023-09-28T21:30","v":4.2},{"t":"2023-09-28T23:00","v":4.3},
{"t":"2023-09-29T01:30","v":3.8},{"t":"2023-09-29T04:00","v":3.8},{"t":"2023-09-29T06:30","v":4.0},{"t":"2023-09-29T08:00","v":4.2},{"t":"2023-09-29T09:30","v":4.6},{"t":"2023-09-29T12:30","v":5.1},{"t":"2023-09-29T14:30","v":5.2},{"t":"2023-09-29T17:00","v":5.0},{"t":"2023-09-29T19:00","v":4.8},{"t":"2023-09-29T21:00","v":4.7},{"t":"2023-09-29T23:00","v":3.8},
{"t":"2023-09-30T02:00","v":2.8},{"t":"2023-09-30T04:30","v":2.1},{"t":"2023-09-30T07:00","v":2.05},{"t":"2023-09-30T09:00","v":2.8},{"t":"2023-09-30T11:30","v":3.8},{"t":"2023-09-30T13:30","v":4.5},{"t":"2023-09-30T15:30","v":5.0},{"t":"2023-09-30T17:00","v":5.2},{"t":"2023-09-30T19:30","v":5.0},{"t":"2023-09-30T21:30","v":4.1},
{"t":"2023-10-01T00:00","v":3.3},{"t":"2023-10-01T02:00","v":2.5},{"t":"2023-10-01T04:30","v":1.8},{"t":"2023-10-01T06:30","v":1.9},{"t":"2023-10-01T09:00","v":2.8},{"t":"2023-10-01T11:00","v":3.0},{"t":"2023-10-01T14:00","v":4.0},{"t":"2023-10-01T16:30","v":5.0},{"t":"2023-10-01T18:00","v":5.2},{"t":"2023-10-01T20:30","v":5.2},{"t":"2023-10-01T23:00","v":4.6},
{"t":"2023-10-02T02:00","v":4.2},{"t":"2023-10-02T05:00","v":4.0},{"t":"2023-10-02T07:00","v":4.3},{"t":"2023-10-02T10:00","v":4.5},{"t":"2023-10-02T12:30","v":5.0},{"t":"2023-10-02T14:30","v":4.6},{"t":"2023-10-02T16:30","v":4.2},{"t":"2023-10-02T19:00","v":3.8},{"t":"2023-10-02T21:00","v":3.0},
{"t":"2023-10-03T00:00","v":2.3},{"t":"2023-10-03T02:30","v":1.95},{"t":"2023-10-03T05:30","v":1.9},{"t":"2023-10-03T08:30","v":1.9},{"t":"2023-10-03T10:30","v":2.2},{"t":"2023-10-03T13:00","v":3.0},{"t":"2023-10-03T15:00","v":4.0},{"t":"2023-10-03T17:30","v":4.4},{"t":"2023-10-03T19:30","v":4.5},{"t":"2023-10-03T21:00","v":4.3},{"t":"2023-10-03T23:00","v":4.0},
{"t":"2023-10-04T01:00","v":3.4},{"t":"2023-10-04T04:00","v":2.6},{"t":"2023-10-04T06:30","v":2.1},{"t":"2023-10-04T10:00","v":2.0},{"t":"2023-10-04T12:30","v":2.2},{"t":"2023-10-04T14:30","v":2.9},{"t":"2023-10-04T17:30","v":3.0},{"t":"2023-10-04T19:00","v":3.1},{"t":"2023-10-04T21:30","v":3.4},{"t":"2023-10-04T23:00","v":3.6},
{"t":"2023-10-05T00:30","v":3.8},{"t":"2023-10-05T02:00","v":3.5},{"t":"2023-10-05T03:30","v":3.4},{"t":"2023-10-05T05:00","v":3.8},{"t":"2023-10-05T06:30","v":3.9},{"t":"2023-10-05T08:30","v":3.7},{"t":"2023-10-05T11:00","v":3.4},{"t":"2023-10-05T13:00","v":3.5},{"t":"2023-10-05T15:00","v":3.7},{"t":"2023-10-05T17:00","v":3.3},{"t":"2023-10-05T19:00","v":2.8},{"t":"2023-10-05T21:30","v":2.7},{"t":"2023-10-05T23:30","v":2.7},
{"t":"2023-10-06T01:30","v":2.1},{"t":"2023-10-06T03:00","v":1.6},{"t":"2023-10-06T04:00","v":1.45},{"t":"2023-10-06T06:30","v":2.0},{"t":"2023-10-06T08:30","v":2.9},{"t":"2023-10-06T11:00","v":3.8},{"t":"2023-10-06T13:00","v":5.0},{"t":"2023-10-06T15:30","v":5.9},{"t":"2023-10-06T17:30","v":6.35},{"t":"2023-10-06T20:00","v":6.2},{"t":"2023-10-06T22:00","v":5.4},
{"t":"2023-10-07T00:30","v":4.6},{"t":"2023-10-07T03:00","v":3.4},{"t":"2023-10-07T05:30","v":3.3},{"t":"2023-10-07T07:30","v":3.2},{"t":"2023-10-07T09:30","v":3.6},{"t":"2023-10-07T12:00","v":4.2},{"t":"2023-10-07T14:00","v":4.8},{"t":"2023-10-07T16:00","v":4.6},{"t":"2023-10-07T18:00","v":4.4},{"t":"2023-10-07T21:00","v":4.1},{"t":"2023-10-07T23:30","v":3.5},
{"t":"2023-10-08T02:00","v":2.7},{"t":"2023-10-08T04:30","v":2.1},{"t":"2023-10-08T07:00","v":1.85},{"t":"2023-10-08T09:00","v":2.1},{"t":"2023-10-08T11:00","v":2.6},{"t":"2023-10-08T12:30","v":3.2},{"t":"2023-10-08T14:00","v":3.6},{"t":"2023-10-08T17:00","v":3.7},{"t":"2023-10-08T19:30","v":3.6},{"t":"2023-10-08T22:00","v":3.5},
{"t":"2023-10-09T00:00","v":3.2},{"t":"2023-10-09T01:30","v":2.5},{"t":"2023-10-09T02:30","v":2.35},{"t":"2023-10-09T05:00","v":2.7},{"t":"2023-10-09T07:00","v":3.0},{"t":"2023-10-09T09:30","v":3.2},{"t":"2023-10-09T11:00","v":3.3},{"t":"2023-10-09T12:30","v":3.6},{"t":"2023-10-09T14:00","v":3.8},{"t":"2023-10-09T15:30","v":3.6},{"t":"2023-10-09T17:00","v":3.5},{"t":"2023-10-09T19:00","v":3.6},{"t":"2023-10-09T20:30","v":3.5},{"t":"2023-10-09T22:00","v":3.9},
{"t":"2023-10-10T00:00","v":4.2},{"t":"2023-10-10T01:00","v":4.0},{"t":"2023-10-10T02:30","v":3.7},{"t":"2023-10-10T04:00","v":4.0},{"t":"2023-10-10T06:00","v":4.0},{"t":"2023-10-10T08:00","v":4.2},{"t":"2023-10-10T08:30","v":4.4},{"t":"2023-10-10T10:00","v":4.3},{"t":"2023-10-10T11:30","v":4.8},{"t":"2023-10-10T13:00","v":5.6},{"t":"2023-10-10T15:00","v":5.8},{"t":"2023-10-10T17:00","v":5.8},{"t":"2023-10-10T18:30","v":5.5},{"t":"2023-10-10T20:00","v":5.4},{"t":"2023-10-10T21:30","v":5.0},
{"t":"2023-10-11T00:00","v":4.1},{"t":"2023-10-11T02:00","v":3.0},{"t":"2023-10-11T04:30","v":2.2},{"t":"2023-10-11T06:30","v":1.95},{"t":"2023-10-11T09:00","v":2.0},{"t":"2023-10-11T11:00","v":2.5},{"t":"2023-10-11T13:30","v":3.6},{"t":"2023-10-11T15:30","v":4.4},{"t":"2023-10-11T18:00","v":4.8},{"t":"2023-10-11T20:00","v":4.9},{"t":"2023-10-11T22:30","v":4.6},{"t":"2023-10-11T23:30","v":4.4},
{"t":"2023-10-12T00:30","v":4.0},{"t":"2023-10-12T01:30","v":3.4},{"t":"2023-10-12T04:00","v":2.6},{"t":"2023-10-12T06:00","v":2.0},{"t":"2023-10-12T08:30","v":1.8},{"t":"2023-10-12T10:30","v":2.1},{"t":"2023-10-12T13:00","v":3.0},{"t":"2023-10-12T15:00","v":3.6},{"t":"2023-10-12T18:00","v":4.0},{"t":"2023-10-12T21:00","v":4.2},{"t":"2023-10-12T23:00","v":4.1},
{"t":"2023-10-13T00:30","v":3.6},{"t":"2023-10-13T02:30","v":2.7},{"t":"2023-10-13T04:30","v":2.3},{"t":"2023-10-13T07:00","v":2.2},{"t":"2023-10-13T09:30","v":2.5},{"t":"2023-10-13T11:30","v":3.2},{"t":"2023-10-13T13:00","v":4.0},{"t":"2023-10-13T15:30","v":4.6},{"t":"2023-10-13T17:30","v":4.8},{"t":"2023-10-13T19:30","v":4.8},{"t":"2023-10-13T21:00","v":4.7}
]
},
"vconcat": [
{
"width": 1430,
"height": 355,
"title": {"text": "Predicted Moving Averages VS Real Values for Test Set Data", "font": "DejaVu Sans", "fontSize": 26, "fontWeight": "normal", "color": "black", "anchor": "middle", "frame": "group", "offset": 0},
"layer": [
{
"data": {"name": "labels"},
"mark": {"type": "line", "strokeWidth": 1.7, "clip": true},
"encoding": {
"x": {"field": "t", "type": "temporal",
"scale": {"domain": [{"year": 2023, "month": 9, "date": 5, "hours": 15, "minutes": 34}, {"year": 2023, "month": 10, "date": 15, "hours": 16, "minutes": 10}]},
"axis": {"title": "Date", "format": "%Y-%m-%d", "labelOverlap": false, "labelFlush": false, "titlePadding": 6,
"values": [{"year": 2023, "month": 9, "date": 9}, {"year": 2023, "month": 9, "date": 13}, {"year": 2023, "month": 9, "date": 17}, {"year": 2023, "month": 9, "date": 21}, {"year": 2023, "month": 9, "date": 25}, {"year": 2023, "month": 9, "date": 29}, {"year": 2023, "month": 10, "date": 1}, {"year": 2023, "month": 10, "date": 5}, {"year": 2023, "month": 10, "date": 9}, {"year": 2023, "month": 10, "date": 13}]}},
"y": {"field": "v", "type": "quantitative",
"scale": {"domain": [-0.5, 10.2], "nice": false, "zero": false},
"axis": {"title": "WS (m/s)", "values": [0, 2, 4, 6, 8, 10], "titlePadding": 4}},
"color": {"datum": "Labels", "type": "nominal",
"scale": {"domain": ["Labels", "3 Days Moving Average"], "range": ["#0000ff", "#ff0000"]},
"legend": {"title": null, "orient": "top-left", "offset": 8, "labelLimit": 400,
"encode": {"symbols": {"update": {"strokeWidth": {"signal": "datum.value === 'Labels' ? 1.5 : 3"}}}}}}
}
},
{
"data": {"name": "ma"},
"mark": {"type": "line", "strokeWidth": 3, "interpolate": "monotone", "clip": true},
"encoding": {
"x": {"field": "t", "type": "temporal"},
"y": {"field": "v", "type": "quantitative"},
"color": {"datum": "3 Days Moving Average", "type": "nominal"}
}
}
]
}
],
"config": {
"font": "DejaVu Sans",
"view": {"stroke": "black", "strokeWidth": 1},
"axis": {"grid": false, "domainColor": "black", "tickColor": "black", "labelColor": "black", "titleColor": "black", "labelFont": "DejaVu Sans", "titleFont": "DejaVu Sans", "labelFontSize": 15.4, "titleFontSize": 19.8, "titleFontWeight": "normal", "tickSize": 4, "labelPadding": 4},
"legend": {"symbolType": "stroke", "symbolSize": 1024, "labelFont": "DejaVu Sans", "labelFontSize": 15.4, "labelColor": "black", "labelLimit": 400, "labelOffset": 20, "padding": 8, "rowPadding": -3, "strokeColor": "#cccccc", "fillColor": "rgba(255,255,255,0.85)", "cornerRadius": 3}
}
}
